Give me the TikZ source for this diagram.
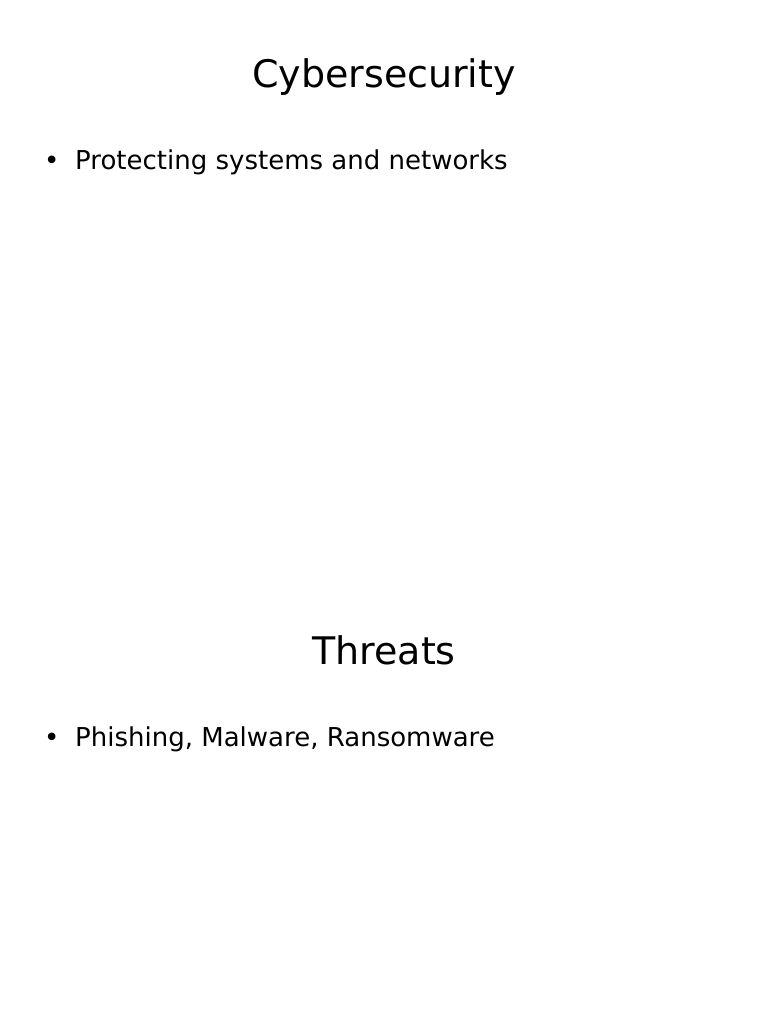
\documentclass[tikz,border=0pt]{standalone}
\usepackage{fontspec}
\setmainfont{DejaVu Sans}
\begin{document}
\begin{tikzpicture}[x=1pt,y=-1pt,
  title/.style={inner sep=0pt,anchor=base,font=\fontsize{38}{44}\selectfont},
  body/.style={inner sep=0pt,anchor=base west,font=\fontsize{26}{32}\selectfont}]
\useasboundingbox[fill=white] (0,0) rectangle (768,1024);
\node[title] (t1) at (384,88) {Cybersecurity};
\node[body] (b1d) at (44,170) {•};
\node[body] (b1) at (75,170) {Protecting systems and networks};
\node[title] (t2) at (384,664) {Threats};
\node[body] (b2d) at (44,746) {•};
\node[body] (b2) at (75,746) {Phishing, Malware, Ransomware};
\end{tikzpicture}
\end{document}
